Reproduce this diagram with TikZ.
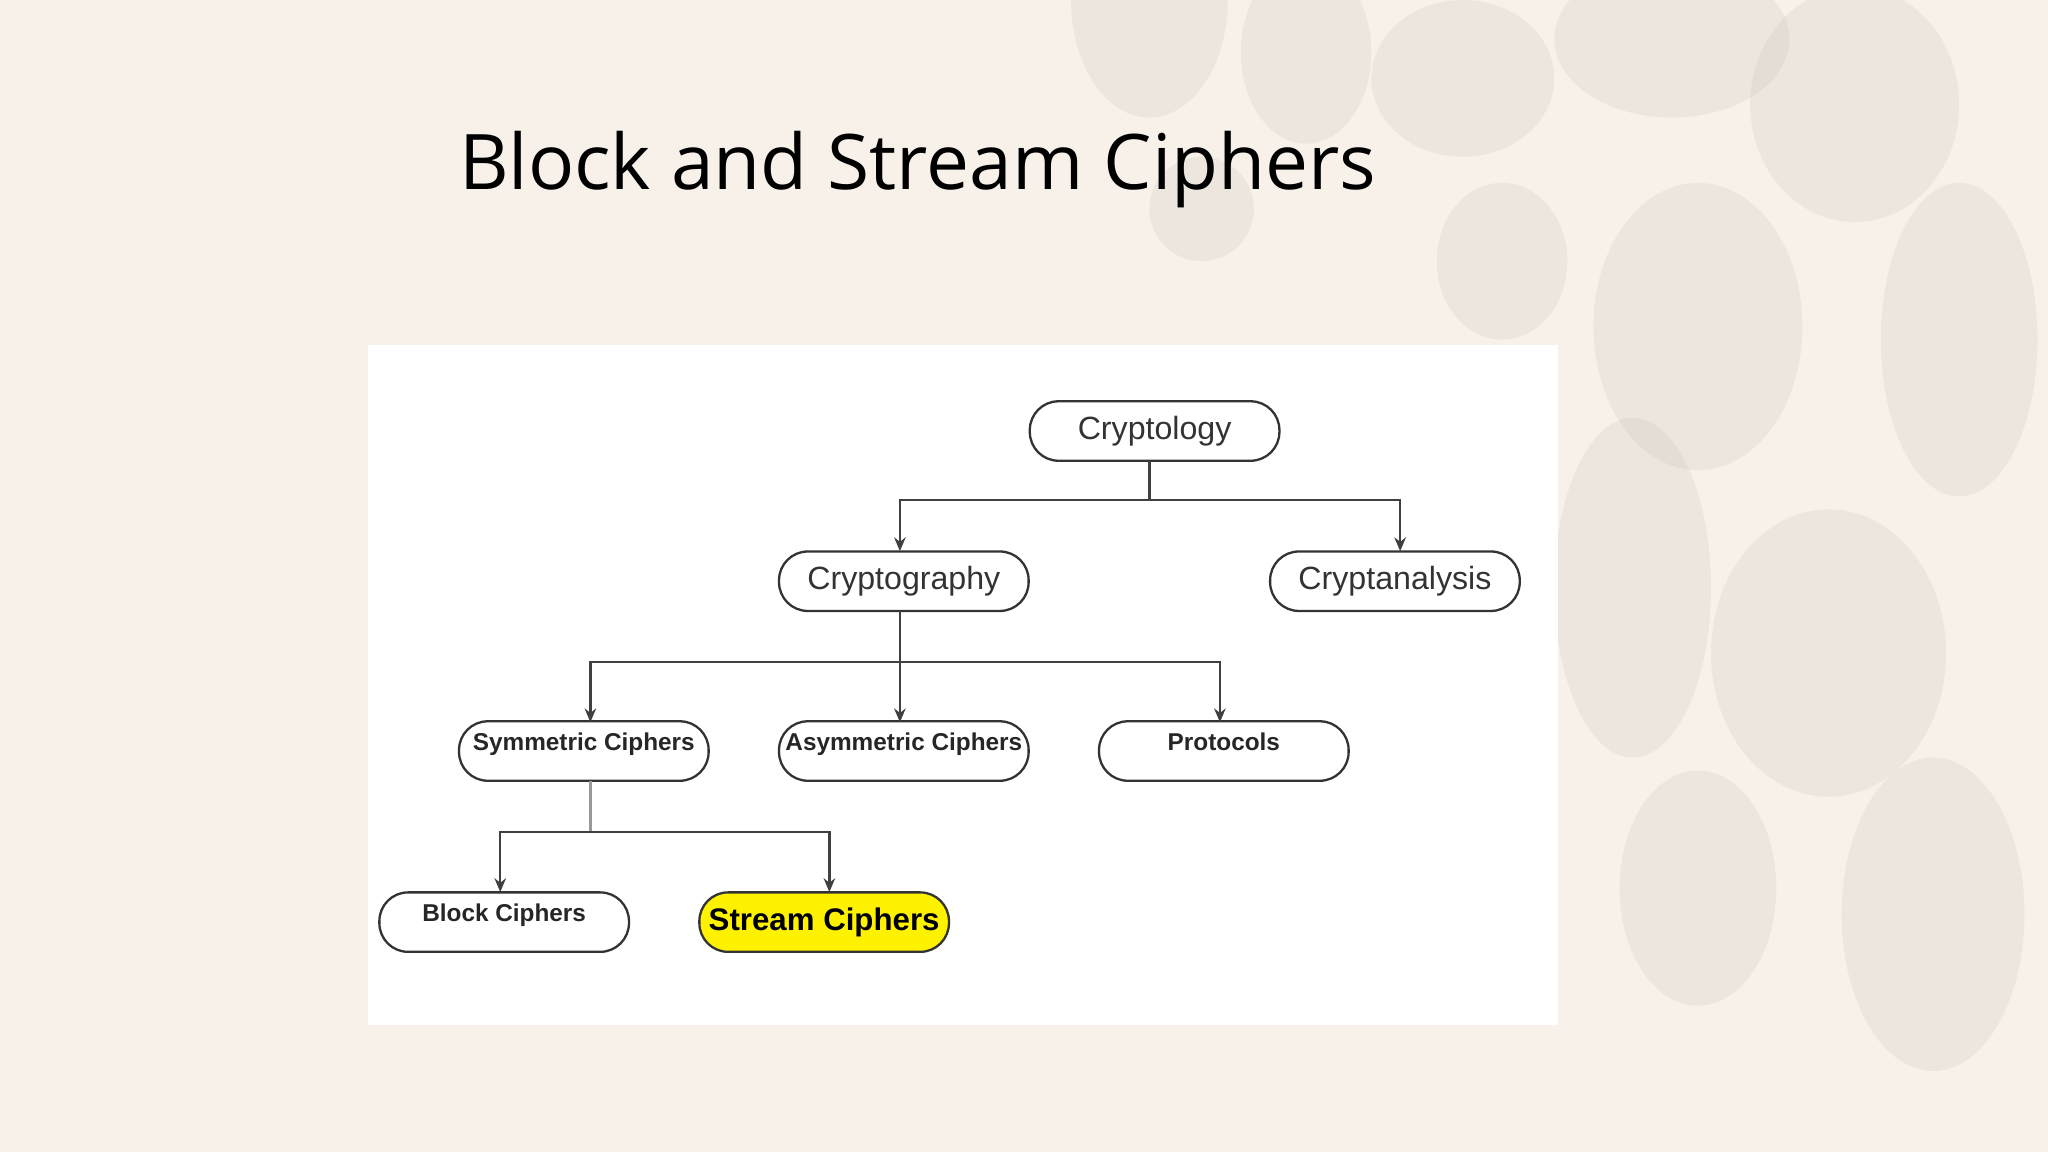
\documentclass[tikz,border=0pt]{standalone}
\usepackage{fontspec}
\setmainfont{Liberation Sans}
\newfontfamily\titlefont{Open Sans}
\usetikzlibrary{arrows.meta}
\definecolor{bg}{HTML}{F8F1E9}
\definecolor{shade}{HTML}{BDB6AD}
\begin{document}
\begin{tikzpicture}[x=0.01cm,y=-0.01cm,
  box/.style={draw=black!80,line width=0.5pt,rounded corners=0.22cm,minimum width=1.91cm,minimum height=0.455cm,inner sep=0pt,fill=white},
  reg/.style={font=\fontsize{7}{8}\selectfont,text=black!80},
  bld/.style={font=\fontsize{5.3}{6}\selectfont\bfseries,text=black!85,text depth=0.8ex},
  ln/.style={draw=black!75,line width=0.5pt},
  arr/.style={ln,-{Stealth[length=3pt,width=2.5pt]}}]
\useasboundingbox (0,0) rectangle (1568,882);
\fill[bg] (0,0) rectangle (1568,882);
% leaf shadows
\begin{scope}[fill=shade,fill opacity=0.18]
\fill (880,0) ellipse (60 and 90);
\fill (1000,40) ellipse (50 and 70);
\fill (1120,60) ellipse (70 and 60);
\fill (1280,30) ellipse (90 and 60);
\fill (1420,80) ellipse (80 and 90);
\fill (1500,260) ellipse (60 and 120);
\fill (1300,250) ellipse (80 and 110);
\fill (1250,450) ellipse (60 and 130);
\fill (1400,500) ellipse (90 and 110);
\fill (1480,700) ellipse (70 and 120);
\fill (1300,680) ellipse (60 and 90);
\fill (920,160) ellipse (40 and 40);
\fill (1150,200) ellipse (50 and 60);
\end{scope}
\node[font=\titlefont\fontsize{16.7}{20}\selectfont,anchor=west] (title) at (339,130) {Block and Stream Ciphers};
\fill[white] (282,264) rectangle (1193,785);
\node[box,reg] (cl) at (884,330) {Cryptology};
\node[box,reg] (cg) at (692,445) {Cryptography};
\node[box,reg] (ca) at (1068,445) {Cryptanalysis};
\node[box,bld] (sy) at (447,575) {Symmetric Ciphers};
\node[box,bld] (as) at (692,575) {Asymmetric Ciphers};
\node[box,bld] (pr) at (937,575) {Protocols};
\node[box,bld] (bc) at (386,706) {Block Ciphers};
\node[box,fill=yellow,font=\fontsize{6.8}{8}\selectfont\bfseries] (sc) at (631,706) {Stream Ciphers};
\coordinate (j1) at (880,383);
\coordinate (j2) at (689,507);
\coordinate (j3) at (452,637);
\draw[ln] (880,353) -- (j1);
\draw[arr] (j1) -| (689,422);
\draw[arr] (j1) -| (1072,422);
\draw[ln] (689,468) -- (j2);
\draw[arr] (j2) -| (452,553);
\draw[arr] (j2) -- (689,553);
\draw[arr] (j2) -| (934,553);
\draw[ln,black!40] (452,598) -- (j3);
\draw[arr] (j3) -| (383,683);
\draw[arr] (j3) -| (635,683);
\end{tikzpicture}
\end{document}
